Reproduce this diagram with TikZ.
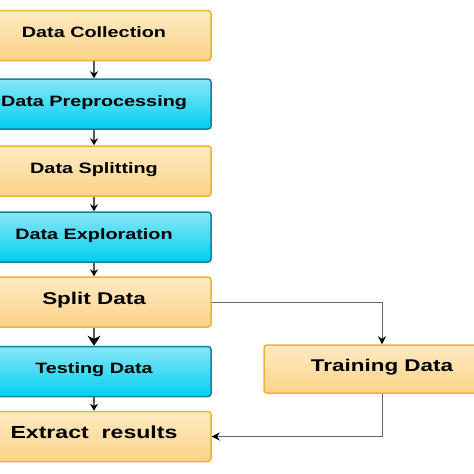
\documentclass[tikz,border=0pt]{standalone}
\usepackage{fontspec}
\setmainfont[FakeStretch=1.32]{Liberation Sans}
\usetikzlibrary{arrows.meta}
\definecolor{boxorange}{HTML}{F0B236}
\definecolor{boxcyan}{HTML}{15809A}
\definecolor{orangetop}{HTML}{FFEAC2}
\definecolor{orangebot}{HTML}{FBD289}
\definecolor{cyantop}{HTML}{8AE6F7}
\definecolor{cyanbot}{HTML}{00D0F0}
\begin{document}
\begin{tikzpicture}
    [x=1pt,y=-1pt,
     pre/.style={{Stealth[length=7pt,width=8pt,black]}-,draw=black!65,line width=1.4pt},
     bigpre/.style={{Stealth[length=10pt,width=13pt,black]}-,draw=black!65,line width=1.4pt},
     link/.style={-{Stealth[length=8pt,width=8pt,black]},draw=black!60,line width=1pt},
     orangebox/.style={draw=boxorange,line width=1.5pt,rounded corners=3pt,
       top color=orangetop,bottom color=orangebot,
       minimum width=234pt,minimum height=50pt,inner sep=0pt,
       text height=11pt,text depth=7pt,
       font=\fontsize{15}{18}\selectfont\bfseries},
     cyanbox/.style={orangebox,draw=boxcyan,top color=cyantop,bottom color=cyanbot}]
    \useasboundingbox (0,0) rectangle (474,474);
    \node [orangebox] (collect) at (94,35.5) {Data Collection};
    \node [cyanbox] (prep) at (94,104) {Data Preprocessing}
      edge [pre] (collect);
    \node [orangebox] (splitting) at (94,171) {Data Splitting}
      edge [pre] (prep);
    \node [cyanbox] (explore) at (94,237) {Data Exploration}
      edge [pre] (splitting);
    \node [orangebox,font=\fontsize{17}{20}\selectfont\bfseries] (split) at (94,302) {Split Data}
      edge [pre] (explore);
    \node [cyanbox] (test) at (94,371.5) {Testing Data}
      edge [bigpre] (split);
    \node [orangebox,font=\fontsize{17.5}{20}\selectfont\bfseries] (extract) at (94,436.5) {Extract\ \ results}
      edge [pre] (test);
    \node [orangebox,minimum width=236pt,minimum height=48pt,font=\fontsize{17}{20}\selectfont\bfseries] (train) at (382,369) {Training Data};
    \draw [link] (split.east) -| (train.north);
    \draw [link] (train.south) |- (extract.east);
\end{tikzpicture}
\end{document}
